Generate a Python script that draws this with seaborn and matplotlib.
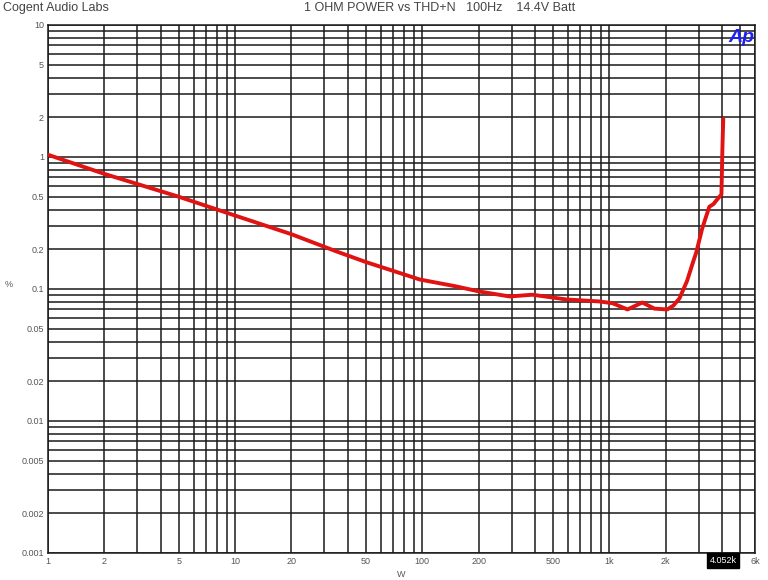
import numpy as np
import pandas as pd
import matplotlib
matplotlib.use("Agg")
import matplotlib.pyplot as plt
import matplotlib.transforms as mtransforms
import seaborn as sns
from matplotlib.ticker import FixedLocator, FixedFormatter, LogLocator, NullFormatter

# Data
watts = [1, 2, 5, 10, 20, 35, 50, 97, 150, 202, 293, 388, 590, 885, 1040,
         1250, 1500, 1740, 2040, 2200, 2370, 2600, 2800, 2915, 3130, 3420,
         3600, 3780, 3970, 4020, 4060]
thd = [1.04, 0.745, 0.50, 0.36, 0.26, 0.192, 0.16, 0.118, 0.105, 0.0957,
       0.0878, 0.0905, 0.0833, 0.0805, 0.078, 0.070, 0.079, 0.071, 0.070,
       0.075, 0.085, 0.115, 0.16, 0.19, 0.286, 0.42, 0.44, 0.48, 0.52,
       1.2, 1.95]

x_ticks = [1, 2, 5, 10, 20, 50, 100, 200, 500, 1000, 2000, 6000]
x_labels = ["1", "2", "5", "10", "20", "50", "100", "200", "500", "1k", "2k", "6k"]
y_ticks = [0.001, 0.002, 0.005, 0.01, 0.02, 0.05, 0.1, 0.2, 0.5, 1, 2, 5, 10]
y_labels = ["0.001", "0.002", "0.005", "0.01", "0.02", "0.05", "0.1", "0.2",
            "0.5", "1", "2", "5", "10"]

title_left = "Cogent Audio Labs"
title_center = "1 OHM POWER vs THD+N   100Hz    14.4V Batt"
cursor_value = 4052
cursor_label = "4.052k"

sns.set_style("white")
plt.rcParams['font.family'] = ['Liberation Sans', 'DejaVu Sans']

df = pd.DataFrame({"W": watts, "THD": thd})

fig = plt.figure(figsize=(7.68, 5.8), dpi=100)
ax = fig.add_axes([48/768, 1-553/580, (755-48)/768, (553-25)/580])

sns.lineplot(data=df, x="W", y="THD", ax=ax, color="#e01212", linewidth=2.8,
             sort=False, zorder=5)

ax.set_xscale("log")
ax.set_yscale("log")
ax.set_xlim(1, 6000)
ax.set_ylim(0.001, 10)

ax.xaxis.set_major_locator(FixedLocator(x_ticks))
ax.xaxis.set_major_formatter(FixedFormatter(x_labels))
ax.xaxis.set_minor_locator(LogLocator(base=10, subs=np.arange(2, 10), numticks=20))
ax.xaxis.set_minor_formatter(NullFormatter())
ax.yaxis.set_major_locator(FixedLocator(y_ticks))
ax.yaxis.set_major_formatter(FixedFormatter(y_labels))
ax.yaxis.set_minor_locator(LogLocator(base=10, subs=np.arange(2, 10), numticks=20))
ax.yaxis.set_minor_formatter(NullFormatter())

ax.grid(True, which="both", color="#1a1a1a", linewidth=1.1)
ax.tick_params(which="both", length=0, labelsize=6.5, labelcolor="#555555", pad=3)
for s in ax.spines.values():
    s.set_color("#1a1a1a")
    s.set_linewidth(1.1)

ax.set_xlabel("W", fontsize=6.5, color="#555555", labelpad=3)
ax.set_ylabel("%", fontsize=6.5, color="#555555", rotation=0, labelpad=20)
ax.yaxis.set_label_coords(-0.055, 0.5)

fig.text(3/768, 1-8/580, title_left, fontsize=9, color="#444444", va="center", ha="left")
fig.text(440/768, 1-8/580, title_center, fontsize=9, color="#444444", va="center", ha="center")

ax.text(0.999, 0.993, "Ap", transform=ax.transAxes, ha="right", va="top",
        fontsize=14, fontweight="bold", fontstyle="italic", color="#2020ee", zorder=6)

cursor_tr = mtransforms.blended_transform_factory(ax.transData, ax.transAxes)
ax.text(cursor_value, -0.006, cursor_label, transform=cursor_tr,
        ha="center", va="top", fontsize=6.5, color="white",
        bbox=dict(boxstyle="square,pad=0.3", fc="black", ec="black"),
        zorder=7, clip_on=False)

fig.savefig("out.png", dpi=100)
